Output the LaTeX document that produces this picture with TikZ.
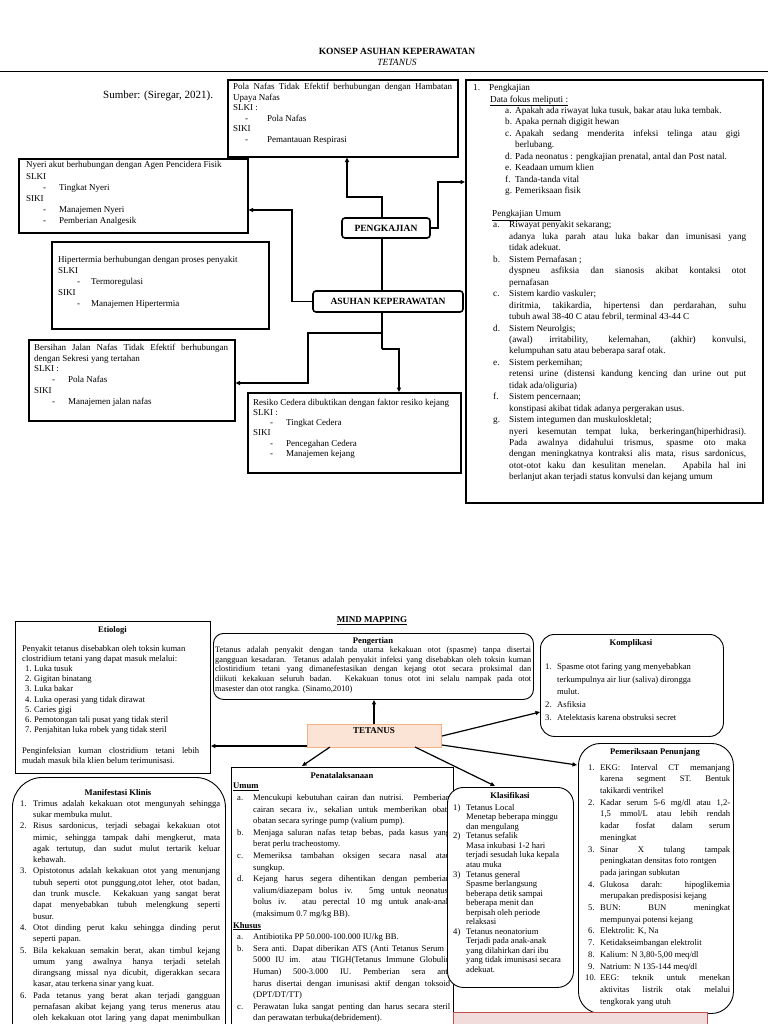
\documentclass[tikz,border=0pt]{standalone}
\usepackage{fontspec}
\setmainfont{Liberation Serif}
\usetikzlibrary{arrows.meta}
\newcommand{\Jw}[2]{\makebox[#1][s]{#2}}
\newcommand{\Ind}[1]{\hspace*{#1}}
\newcommand{\Lb}[2]{\makebox[#1][l]{#2}}
\definecolor{tetfill}{HTML}{FBE4D5}
\definecolor{tetdraw}{HTML}{F4B183}
\definecolor{pinkfill}{HTML}{F2DCDB}
\definecolor{pinkdraw}{HTML}{C0504D}
\begin{document}
\begin{tikzpicture}[x=1pt,y=-1pt,
 tbox/.style={draw, line width=1.6pt, inner sep=0pt, anchor=north west},
 lbox/.style={draw, line width=0.9pt, inner sep=0pt, anchor=north west},
 rbox/.style={draw, line width=0.9pt, inner sep=0pt, anchor=north west, rounded corners=#1},
 txt/.style={inner sep=0pt, anchor=north west, align=left},
 head/.style={inner sep=0pt, font=\fontsize{8.6}{10}\selectfont\bfseries},
 keybox/.style={draw, line width=1.6pt, rounded corners=3pt, inner sep=0pt, font=\fontsize{9.5}{11}\selectfont\bfseries},
 conn/.style={line width=1.2pt},
 arr/.style={line width=1.2pt, -{Triangle[length=4.5pt,width=4pt]}},
]
\useasboundingbox (0,0) rectangle (768,1024);
\clip (0,0) rectangle (768,1024);
\fill[white] (0,0) rectangle (768,1024);

% ---------- top section ----------
\node[inner sep=0pt, font=\fontsize{9.5}{11}\selectfont\bfseries] (title) at (397,51) {KONSEP ASUHAN KEPERAWATAN};
\node[inner sep=0pt, font=\fontsize{9.5}{11}\selectfont\itshape] (subtitle) at (397,62) {TETANUS};
\draw[line width=1pt] (0,72) -- (768,72);
\node[inner sep=0pt, anchor=west, font=\fontsize{11}{13}\selectfont] (src) at (103,96) {Sumber: (Siregar, 2021).};

\node[tbox, minimum width=230pt, minimum height=77pt] (pola) at (227,79) {};
\node[txt, font=\fontsize{9}{10.5}\selectfont] (polaT) at (233,83) {%
\Jw{219pt}{Pola Nafas Tidak Efektif berhubungan dengan Hambatan}\\
Upaya Nafas\\
SLKI :\\
\Ind{12pt}\Lb{22pt}{-}Pola Nafas\\
SIKI\\
\Ind{12pt}\Lb{22pt}{-}Pemantauan Respirasi};

\node[tbox, minimum width=297pt, minimum height=423pt] (pkj) at (465,79) {};
\node[txt, font=\fontsize{9.2}{11.45}\selectfont] (pkjT) at (473,84) {%
\Lb{16pt}{1.}Pengkajian\\
\Ind{17pt}\underline{Data fokus meliputi :}\\
\Ind{32pt}\Lb{10pt}{a.}Apakah ada riwayat luka tusuk, bakar atau luka tembak.\\
\Ind{32pt}\Lb{10pt}{b.}Apaka pernah digigit hewan\\
\Ind{32pt}\Lb{10pt}{c.}\Jw{225pt}{Apakah sedang menderita infeksi telinga atau gigi}\\
\Ind{42pt}berlubang.\\
\Ind{32pt}\Lb{10pt}{d.}Pada neonatus : pengkajian prenatal, antal dan Post natal.\\
\Ind{32pt}\Lb{10pt}{e.}Keadaan umum klien\\
\Ind{32pt}\Lb{10pt}{f.}Tanda-tanda vital\\
\Ind{32pt}\Lb{10pt}{g.}Pemeriksaan fisik\\
\mbox{}\\
\Ind{19pt}\underline{Pengkajian Umum}\\
\Ind{20pt}\Lb{16pt}{a.}Riwayat penyakit sekarang;\\
\Ind{36pt}\Jw{237pt}{adanya luka parah atau luka bakar dan imunisasi yang}\\
\Ind{36pt}tidak adekuat.\\
\Ind{20pt}\Lb{16pt}{b.}Sistem Pernafasan ;\\
\Ind{36pt}\Jw{237pt}{dyspneu asfiksia dan sianosis akibat kontaksi otot}\\
\Ind{36pt}pernafasan\\
\Ind{20pt}\Lb{16pt}{c.}Sistem kardio vaskuler;\\
\Ind{36pt}\Jw{237pt}{diritmia, takikardia, hipertensi dan perdarahan, suhu}\\
\Ind{36pt}tubuh awal 38-40 C atau febril, terminal 43-44 C\\
\Ind{20pt}\Lb{16pt}{d.}Sistem Neurolgis;\\
\Ind{36pt}\Jw{237pt}{(awal) irritability, kelemahan, (akhir) konvulsi,}\\
\Ind{36pt}kelumpuhan satu atau beberapa saraf otak.\\
\Ind{20pt}\Lb{16pt}{e.}Sistem perkemihan;\\
\Ind{36pt}\Jw{237pt}{retensi urine (distensi kandung kencing dan urine out put}\\
\Ind{36pt}tidak ada/oliguria)\\
\Ind{20pt}\Lb{16pt}{f.}Sistem pencernaan;\\
\Ind{36pt}konstipasi akibat tidak adanya pergerakan usus.\\
\Ind{20pt}\Lb{16pt}{g.}Sistem integumen dan muskuloskletal;\\
\Ind{36pt}\Jw{237pt}{nyeri kesemutan tempat luka, berkeringan(hiperhidrasi).}\\
\Ind{36pt}\Jw{237pt}{Pada awalnya didahului trismus, spasme oto maka}\\
\Ind{36pt}\Jw{237pt}{dengan meningkatnya kontraksi alis mata, risus sardonicus,}\\
\Ind{36pt}\Jw{237pt}{otot-otot kaku dan kesulitan menelan. Apabila hal ini}\\
\Ind{36pt}berlanjut akan terjadi status konvulsi dan kejang umum};

\node[tbox, minimum width=229pt, minimum height=74pt] (nyeri) at (18,158) {};
\node[txt, font=\fontsize{9}{11.2}\selectfont] (nyeriT) at (26,161.5) {%
Nyeri akut berhubungan dengan Agen Pencidera Fisik\\
SLKI\\
\Ind{17pt}\Lb{16pt}{-}Tingkat Nyeri\\
SIKI\\
\Ind{17pt}\Lb{16pt}{-}Manajemen Nyeri\\
\Ind{17pt}\Lb{16pt}{-}Pemberian Analgesik};

\node[tbox, minimum width=217pt, minimum height=87pt] (hiper) at (51,241) {};
\node[txt, font=\fontsize{9}{11}\selectfont] (hiperT) at (58,256) {%
Hipertermia berhubungan dengan proses penyakit\\
SLKI\\
\Ind{19pt}\Lb{14pt}{-}Termoregulasi\\
SIKI\\
\Ind{19pt}\Lb{14pt}{-}Manajemen Hipertermia};

\node[tbox, minimum width=206pt, minimum height=81pt] (bers) at (28,339) {};
\node[txt, font=\fontsize{9}{10.7}\selectfont] (bersT) at (34,344) {%
\Jw{194pt}{Bersihan Jalan Nafas Tidak Efektif berhubungan}\\
dengan Sekresi yang tertahan\\
SLKI :\\
\Ind{18pt}\Lb{16pt}{-}Pola Nafas\\
SIKI\\
\Ind{18pt}\Lb{16pt}{-}Manajemen jalan nafas};

\node[tbox, minimum width=213pt, minimum height=80pt] (resiko) at (247,392) {};
\node[txt, font=\fontsize{9}{10.3}\selectfont] (resikoT) at (253,398.5) {%
Resiko Cedera dibuktikan dengan faktor resiko kejang\\
SLKI :\\
\Ind{17pt}\Lb{16pt}{-}Tingkat Cedera\\
SIKI\\
\Ind{17pt}\Lb{16pt}{-}Pencegahan Cedera\\
\Ind{17pt}\Lb{16pt}{-}Manajemen kejang};

\node[keybox, minimum width=88pt, minimum height=20pt] (pengk) at (386,228) {PENGKAJIAN};
\node[keybox, minimum width=150pt, minimum height=21pt] (asuhan) at (388,301.5) {ASUHAN KEPERAWATAN};

% top connectors
\coordinate (a1) at (382,312);
\coordinate (a2) at (382,333);
\coordinate (a3) at (382,349);
\draw[conn] (asuhan.south -| a1) -- (a3);
\draw[arr] (a3) -- (399,349) -- (resiko.north -| 399,0);
\draw[arr] (a2) -- (308,333) -- (308,383) -- (bers.east |- 0,383);
\draw[conn] (asuhan.north -| a1) -- (pengk.south -| a1);
\draw[arr] (pengk.north -| a1) -- (382,197) -- (347,197) -- (pola.south -| 347,0);
\draw[arr] (pengk.east) -- (438,228) -- (438,182) -- (pkj.west |- 0,182);
\draw[arr] (asuhan.west) -- (292,301.5) -- (292,210) -- (nyeri.east |- 0,210);

% ---------- bottom section ----------
\node[inner sep=0pt, font=\fontsize{9}{10}\selectfont\bfseries] (mm) at (372,621) {\underline{MIND MAPPING}};

\node[lbox, minimum width=195pt, minimum height=152pt] (etio) at (15,621) {};
\node[head] (etioH) at (112.5,630) {Etiologi};
\node[txt, font=\fontsize{8.6}{10.2}\selectfont] (etioT) at (22,645) {%
Penyakit tetanus disebabkan oleh toksin kuman\\
clostridium tetani yang dapat masuk melalui:\\
\Ind{3pt}\Lb{9pt}{1.}Luka tusuk\\
\Ind{3pt}\Lb{9pt}{2.}Gigitan binatang\\
\Ind{3pt}\Lb{9pt}{3.}Luka bakar\\
\Ind{3pt}\Lb{9pt}{4.}Luka operasi yang tidak dirawat\\
\Ind{3pt}\Lb{9pt}{5.}Caries gigi\\
\Ind{3pt}\Lb{9pt}{6.}Pemotongan tali pusat yang tidak steril\\
\Ind{3pt}\Lb{9pt}{7.}Penjahitan luka robek yang tidak steril\\
\mbox{}\\
\Jw{177pt}{Penginfeksian kuman clostridium tetani lebih}\\
mudah masuk bila klien belum terimunisasi.};

\node[rbox=10pt, minimum width=320pt, minimum height=66pt] (peng) at (213,633) {};
\node[head] (pengH) at (373,641) {Pengertian};
\node[txt, font=\fontsize{8.3}{9.7}\selectfont] (pengT) at (215,646.5) {%
\Jw{316pt}{Tetanus adalah penyakit dengan tanda utama kekakuan otot (spasme) tanpa disertai}\\
\Jw{316pt}{gangguan kesadaran. Tetanus adalah penyakit infeksi yang disebabkan oleh toksin kuman}\\
\Jw{316pt}{clostiridium tetani yang dimanefestasikan dengan kejang otot secara proksimal dan}\\
\Jw{316pt}{diikuti kekakuan seluruh badan. Kekakuan tonus otot ini selalu nampak pada otot}\\
masester dan otot rangka. (Sinamo,2010)};

\node[rbox=14pt, minimum width=183pt, minimum height=102pt] (kompl) at (540,634) {};
\node[head] (komplH) at (631,643) {Komplikasi};
\node[txt, font=\fontsize{8.6}{12.8}\selectfont] (komplT) at (545,663) {%
\Lb{12pt}{1.}Spasme otot faring yang menyebabkan\\
\Ind{12pt}terkumpulnya air liur (saliva) dirongga\\
\Ind{12pt}mulut.\\
\Lb{12pt}{2.}Asfiksia\\
\Lb{12pt}{3.}Atelektasis karena obstruksi secret};

\node[tbox, draw=tetdraw, fill=tetfill, line width=1pt, minimum width=134pt, minimum height=23pt] (tet) at (307,724) {};
\node[inner sep=0pt, font=\fontsize{9}{10}\selectfont\bfseries] (tetT) at (374,731) {TETANUS};

\node[rbox=22pt, minimum width=155pt, minimum height=270pt] (pem) at (578,743) {};
\node[head] (pemH) at (655,752) {Pemeriksaan Penunjang};
\node[txt, font=\fontsize{8.6}{11.7}\selectfont] (pemT) at (585,764) {%
\Ind{3pt}\Lb{12pt}{1.}\Jw{130pt}{EKG: Interval CT memanjang}\\
\Ind{15pt}\Jw{130pt}{karena segment ST. Bentuk}\\
\Ind{15pt}takikardi ventrikel\\
\Ind{3pt}\Lb{12pt}{2.}\Jw{130pt}{Kadar serum 5-6 mg/dl atau 1,2-}\\
\Ind{15pt}\Jw{130pt}{1,5 mmol/L atau lebih rendah}\\
\Ind{15pt}\Jw{130pt}{kadar fosfat dalam serum}\\
\Ind{15pt}meningkat\\
\Ind{3pt}\Lb{12pt}{3.}\Jw{130pt}{Sinar X tulang tampak}\\
\Ind{15pt}peningkatan densitas foto rontgen\\
\Ind{15pt}pada jaringan subkutan\\
\Ind{3pt}\Lb{12pt}{4.}\Jw{130pt}{Glukosa darah: hipoglikemia}\\
\Ind{15pt}merupakan predisposisi kejang\\
\Ind{3pt}\Lb{12pt}{5.}\Jw{130pt}{BUN: BUN meningkat}\\
\Ind{15pt}mempunyai potensi kejang\\
\Ind{3pt}\Lb{12pt}{6.}Elektrolit: K, Na\\
\Ind{3pt}\Lb{12pt}{7.}Ketidakseimbangan elektrolit\\
\Ind{3pt}\Lb{12pt}{8.}Kalium: N 3,80-5,00 meq/dl\\
\Ind{3pt}\Lb{12pt}{9.}Natrium: N 135-144 meq/dl\\
\Lb{15pt}{10.}\Jw{130pt}{EEG: teknik untuk menekan}\\
\Ind{15pt}\Jw{130pt}{aktivitas listrik otak melalui}\\
\Ind{15pt}tengkorak yang utuh};

\node[lbox, minimum width=222pt, minimum height=290pt] (pena) at (231,767) {};
\node[head] (penaH) at (342,776) {Penatalaksanaan};
\node[txt, font=\fontsize{8.6}{11.6}\selectfont] (penaT) at (233,783) {%
\underline{\textbf{Umum}}\\
\Ind{4pt}\Lb{16pt}{a.}\Jw{197pt}{Mencukupi kebutuhan cairan dan nutrisi. Pemberian}\\
\Ind{20pt}\Jw{197pt}{cairan secara iv., sekalian untuk memberikan obat-}\\
\Ind{20pt}obatan secara syringe pump (valium pump).\\
\Ind{4pt}\Lb{16pt}{b.}\Jw{197pt}{Menjaga saluran nafas tetap bebas, pada kasus yang}\\
\Ind{20pt}berat perlu tracheostomy.\\
\Ind{4pt}\Lb{16pt}{c.}\Jw{197pt}{Memeriksa tambahan oksigen secara nasal atau}\\
\Ind{20pt}sungkup.\\
\Ind{4pt}\Lb{16pt}{d.}\Jw{197pt}{Kejang harus segera dihentikan dengan pemberian}\\
\Ind{20pt}\Jw{197pt}{valium/diazepam bolus iv. 5mg untuk neonatus,}\\
\Ind{20pt}\Jw{197pt}{bolus iv. atau perectal 10 mg untuk anak-anak}\\
\Ind{20pt}(maksimum 0.7 mg/kg BB).\\
\underline{\textbf{Khusus}}\\
\Ind{4pt}\Lb{16pt}{a.}Antibiotika PP 50.000-100.000 IU/kg BB.\\
\Ind{4pt}\Lb{16pt}{b.}\Jw{197pt}{Sera anti. Dapat diberikan ATS (Anti Tetanus Serum )}\\
\Ind{20pt}\Jw{197pt}{5000 IU im. atau TIGH(Tetanus Immune Globulin}\\
\Ind{20pt}\Jw{197pt}{Human) 500-3.000 IU. Pemberian sera anti}\\
\Ind{20pt}\Jw{197pt}{harus disertai dengan imunisasi aktif dengan toksoid}\\
\Ind{20pt}(DPT/DT/TT)\\
\Ind{4pt}\Lb{16pt}{c.}\Jw{197pt}{Perawatan luka sangat penting dan harus secara steril}\\
\Ind{20pt}dan perawatan terbuka(debridement).};

\node[rbox=16pt, fill=white, minimum width=126pt, minimum height=200pt] (kla) at (447,787) {};
\node[head] (klaH) at (510,796) {Klasifikasi};
\node[txt, font=\fontsize{8.6}{9.55}\selectfont] (klaT) at (453,804) {%
\Lb{13pt}{1)}Tetanus Local\\
\Ind{13pt}Menetap beberapa minggu\\
\Ind{13pt}dan mengulang\\
\Lb{13pt}{2)}Tetanus sefalik\\
\Ind{13pt}Masa inkubasi 1-2 hari\\
\Ind{13pt}terjadi sesudah luka kepala\\
\Ind{13pt}atau muka\\
\Lb{13pt}{3)}Tetanus general\\
\Ind{13pt}Spasme berlangsung\\
\Ind{13pt}beberapa detik sampai\\
\Ind{13pt}beberapa menit dan\\
\Ind{13pt}berpisah oleh periode\\
\Ind{13pt}relaksasi\\
\Lb{13pt}{4)}Tetanus neonatorium\\
\Ind{13pt}Terjadi pada anak-anak\\
\Ind{13pt}yang dilahirkan dari ibu\\
\Ind{13pt}yang tidak imunisasi secara\\
\Ind{13pt}adekuat.};

\node[rbox=30pt, minimum width=213pt, minimum height=300pt] (man) at (12,777) {};
\node[head] (manH) at (118,793) {Manifestasi Klinis};
\node[txt, font=\fontsize{8.6}{11.3}\selectfont] (manT) at (20,800) {%
\Lb{13pt}{1.}\Jw{187pt}{Trimus adalah kekakuan otot mengunyah sehingga}\\
\Ind{13pt}sukar membuka mulut.\\
\Lb{13pt}{2.}\Jw{187pt}{Risus sardonicus, terjadi sebagai kekakuan otot}\\
\Ind{13pt}\Jw{187pt}{mimic, sehingga tampak dahi mengkerut, mata}\\
\Ind{13pt}\Jw{187pt}{agak tertutup, dan sudut mulut tertarik keluar}\\
\Ind{13pt}kebawah.\\
\Lb{13pt}{3.}\Jw{187pt}{Opistotonus adalah kekakuan otot yang menunjang}\\
\Ind{13pt}\Jw{187pt}{tubuh seperti otot punggung,otot leher, otot badan,}\\
\Ind{13pt}\Jw{187pt}{dan trunk muscle. Kekakuan yang sangat berat}\\
\Ind{13pt}\Jw{187pt}{dapat menyebabkan tubuh melengkung seperti}\\
\Ind{13pt}busur.\\
\Lb{13pt}{4.}\Jw{187pt}{Otot dinding perut kaku sehingga dinding perut}\\
\Ind{13pt}seperti papan.\\
\Lb{13pt}{5.}\Jw{187pt}{Bila kekakuan semakin berat, akan timbul kejang}\\
\Ind{13pt}\Jw{187pt}{umum yang awalnya hanya terjadi setelah}\\
\Ind{13pt}\Jw{187pt}{dirangsang missal nya dicubit, digerakkan secara}\\
\Ind{13pt}kasar, atau terkena sinar yang kuat.\\
\Lb{13pt}{6.}\Jw{187pt}{Pada tetanus yang berat akan terjadi gangguan}\\
\Ind{13pt}\Jw{187pt}{pernafasan akibat kejang yang terus menerus atau}\\
\Ind{13pt}\Jw{187pt}{oleh kekakuan otot laring yang dapat menimbulkan}};

\node[tbox, draw=pinkdraw, fill=pinkfill, line width=1pt, minimum width=254pt, minimum height=30pt] (pink) at (453,1012) {};

% bottom connectors
\draw[arr] (tet.north -| tetT) -- (peng.south -| tetT);
\draw[arr] ([yshift=2pt]tet.south west) -- ([yshift=2pt]tet.south west -| etio.east);
\coordinate (kIn) at (540,712);
\draw[arr] (tet.east) -- (kIn);
\coordinate (pIn) at (577,765);
\draw[arr] ([yshift=3pt]tet.south east) -- (pIn);
\coordinate (tK) at (415,747);
\coordinate (kTop) at (495,786);
\draw[arr] (tK) -- (kTop);
\coordinate (tP) at (330,747);
\coordinate (pTop) at (302,766);
\draw[arr] (tP) -- (pTop);
\end{tikzpicture}
\end{document}
